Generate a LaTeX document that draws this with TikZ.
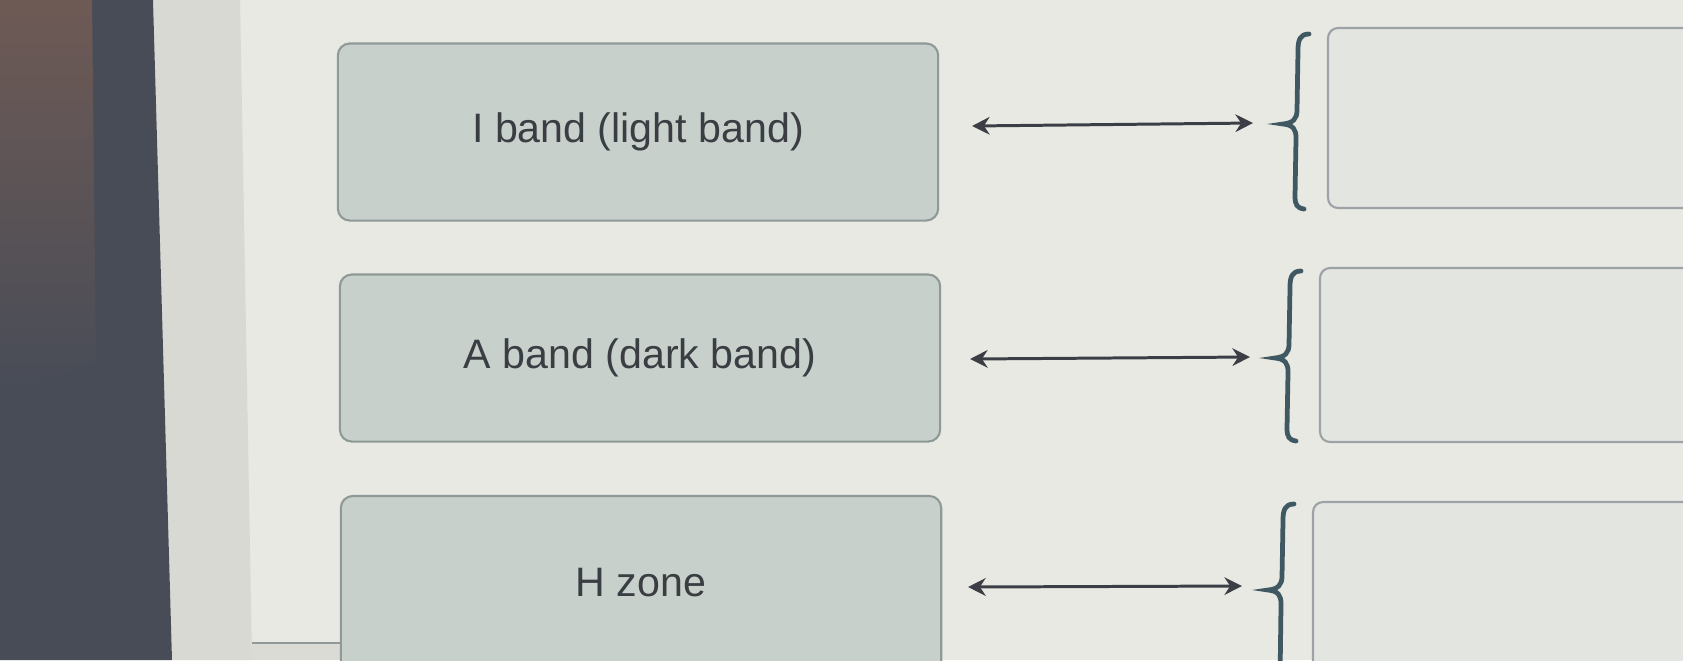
\documentclass[tikz,border=0pt]{standalone}
\usepackage{fontspec}
\setmainfont{Liberation Sans}
\usetikzlibrary{arrows.meta}
\begin{document}
\begin{tikzpicture}[x=0.01cm,y=-0.01cm]
\definecolor{bgc}{HTML}{E8E9E3}
\definecolor{stripc}{HTML}{D8D9D3}
\definecolor{darkc}{HTML}{474C57}
\definecolor{brownc}{HTML}{6E5A55}
\definecolor{boxfill}{HTML}{C8D0CB}
\definecolor{boxline}{HTML}{8F9A98}
\definecolor{rbfill}{HTML}{E3E6E0}
\definecolor{rbline}{HTML}{9CA2A6}
\definecolor{bracec}{HTML}{3F5862}
\definecolor{arrowc}{HTML}{3B3F45}
\definecolor{textc}{HTML}{3A3D42}
\tikzset{
  labelbox/.style={draw=boxline, fill=boxfill, line width=0.6pt, rounded corners=0.12cm,
    minimum width=6.0cm, inner sep=0pt, text=textc, font=\fontsize{11.7}{14}\selectfont},
  answerbox/.style={draw=rbline, fill=rbfill, line width=0.6pt, rounded corners=0.1cm},
  linkarrow/.style={draw=arrowc, line width=0.85pt, {Stealth[length=5pt,width=5pt]}-{Stealth[length=5pt,width=5pt]}},
  bracepath/.style={draw=bracec, line width=1.35pt, line cap=round}
}
\useasboundingbox (0,0) rectangle (1683,660);
% background
\fill[bgc] (0,0) rectangle (1683,660);
\fill[stripc] (153,0) -- (240,0) -- (252,660) -- (172,660) -- cycle;
\fill[darkc] (0,0) -- (153,0) -- (172,660) -- (0,660) -- cycle;
\shade[top color=brownc, bottom color=darkc] (0,0) -- (92,0) -- (96,360) -- (0,400) -- cycle;
\fill[bgc!94!black] (252,643) rectangle (350,660);
\draw[boxline, line width=0.6pt] (252,643) -- (350,643);
% left boxes
\node[labelbox, minimum height=1.77cm] (b1) at (638,132) {I band (light band)};
\node[labelbox, minimum height=1.67cm] (b2) at (640,358) {A band (dark band)};
\node[labelbox, minimum height=1.80cm, text depth=0pt] (b3) at (641,586) {\raisebox{0.08cm}{H zone}};
% answer boxes
\draw[answerbox] (1328,28) rectangle (1720,208);
\draw[answerbox] (1320,268) rectangle (1720,442);
\draw[answerbox] (1313,502) rectangle (1720,720);
% arrows
\coordinate (a1s) at (972,126); \coordinate (a1e) at (1253,123);
\coordinate (a2s) at (970,359); \coordinate (a2e) at (1250,357);
\coordinate (a3s) at (968,587); \coordinate (a3e) at (1242,586);
\draw[linkarrow] (a1s) -- (a1e);
\draw[linkarrow] (a2s) -- (a2e);
\draw[linkarrow] (a3s) -- (a3e);
% braces
\draw[bracepath] (1309,34) .. controls (1300,34) and (1298,40) .. (1298,50)
  -- (1297,110) .. controls (1297,119) and (1293,123) .. (1283,124)
  .. controls (1293,125) and (1296,129) .. (1296,138)
  -- (1295,196) .. controls (1295,205) and (1297,208) .. (1304,209);
\draw[bracepath] (1301,271) .. controls (1292,271) and (1290,277) .. (1290,287)
  -- (1289,344) .. controls (1289,353) and (1285,357) .. (1275,358)
  .. controls (1285,359) and (1288,363) .. (1288,372)
  -- (1287,428) .. controls (1287,437) and (1289,440) .. (1296,441);
\draw[bracepath] (1294,504) .. controls (1285,504) and (1283,510) .. (1283,520)
  -- (1282,576) .. controls (1282,585) and (1278,589) .. (1268,590)
  .. controls (1278,591) and (1281,595) .. (1281,604)
  -- (1280,680);
\end{tikzpicture}
\end{document}
